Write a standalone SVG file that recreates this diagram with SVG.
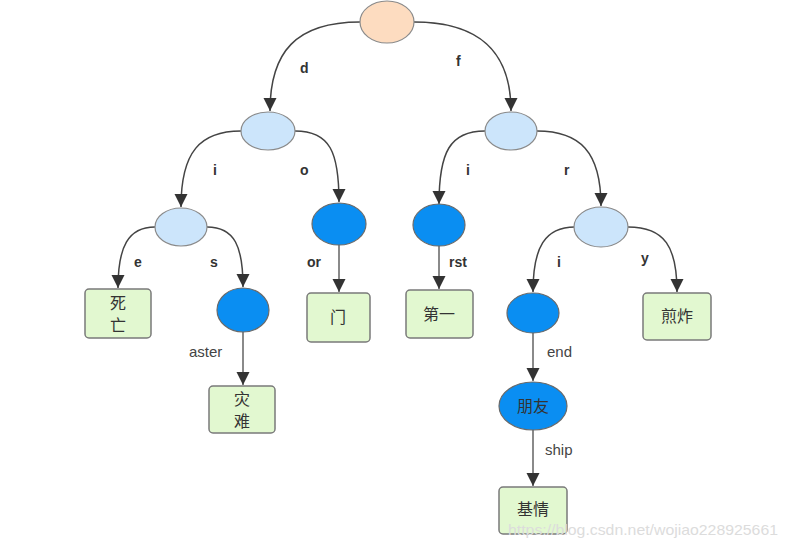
<svg xmlns="http://www.w3.org/2000/svg" width="788" height="546" viewBox="0 0 788 546">
<style>
.edge{fill:none;stroke:#444;stroke-width:1.5}
.vedge{fill:none;stroke:#8a8a8a;stroke-width:2}
.root{fill:#fddcc0;stroke:#8a8a8a;stroke-width:1.2}
.light{fill:#cce5fb;stroke:#8a8a8a;stroke-width:1.2}
.dark{fill:#0a8ef2;stroke:#6a6a6a;stroke-width:1.2}
.leaf{fill:#e2f8d0;stroke:#7a7a7a;stroke-width:1.5}
.lbl{font-family:"Liberation Sans",Arial,sans-serif;font-size:14px;font-weight:bold;fill:#333}
.lblr{font-family:"Liberation Sans",Arial,sans-serif;font-size:15px;fill:#444}
.cjk{font-family:"Noto Sans CJK SC","Liberation Sans",sans-serif;font-size:16px;fill:#333;text-anchor:middle}
.wm{font-family:"Liberation Sans",Arial,sans-serif;font-size:15px;fill:#dcdcdc}
</style>
<defs>
<marker id="arr" markerUnits="userSpaceOnUse" markerWidth="14" markerHeight="16" refX="13" refY="6.5" orient="auto">
<path d="M0,0 L13,6.5 L0,13 Z" fill="#333"/>
</marker>
</defs>
<rect width="788" height="546" fill="#fff"/>
<g id="connectors">
<path class="edge" d="M360,22 C296,22 270,52 270,111" marker-end="url(#arr)"/>
<path class="edge" d="M414,22 C480,22 511,52 511,111" marker-end="url(#arr)"/>
<path class="edge" d="M241,131 C200,131 181,152 181,207" marker-end="url(#arr)"/>
<path class="edge" d="M295,131 C330,131 339,152 339,202" marker-end="url(#arr)"/>
<path class="edge" d="M155,227 C128,227 118,247 118,288" marker-end="url(#arr)"/>
<path class="edge" d="M207,227 C235,227 243,247 243,287" marker-end="url(#arr)"/>
<path class="vedge" d="M243,332 L243,385" marker-end="url(#arr)"/>
<path class="vedge" d="M339,245 L339,292" marker-end="url(#arr)"/>
<path class="edge" d="M485,131 C450,131 439,152 439,204" marker-end="url(#arr)"/>
<path class="edge" d="M537,131 C580,131 601,152 601,206" marker-end="url(#arr)"/>
<path class="vedge" d="M439,246 L439,289" marker-end="url(#arr)"/>
<path class="edge" d="M575,227 C545,227 533,247 533,292" marker-end="url(#arr)"/>
<path class="edge" d="M628,227 C665,227 677,247 677,292" marker-end="url(#arr)"/>
<path class="vedge" d="M533,333 L533,381" marker-end="url(#arr)"/>
<path class="vedge" d="M533,429 L533,486" marker-end="url(#arr)"/>
<text class="lbl" x="300" y="73">d</text>
<text class="lbl" x="456" y="66">f</text>
<text class="lbl" x="213" y="175">i</text>
<text class="lbl" x="300" y="175">o</text>
<text class="lbl" x="466" y="175">i</text>
<text class="lbl" x="564" y="175">r</text>
<text class="lbl" x="134" y="267">e</text>
<text class="lbl" x="210" y="267">s</text>
<text class="lbl" x="307" y="267">or</text>
<text class="lbl" x="449" y="267">rst</text>
<text class="lbl" x="557" y="267">i</text>
<text class="lbl" x="641" y="263">y</text>
<text class="lblr" x="189" y="357">aster</text>
<text class="lblr" x="547" y="357">end</text>
<text class="lblr" x="545" y="455">ship</text>
</g>
<g id="root"><ellipse class="root" cx="387" cy="22" rx="27" ry="21"/></g>
<g id="n-d"><ellipse class="light" cx="268" cy="131" rx="27" ry="19"/></g>
<g id="n-f"><ellipse class="light" cx="511" cy="131" rx="26" ry="19"/></g>
<g id="n-di"><ellipse class="light" cx="181" cy="227" rx="26" ry="19"/></g>
<g id="n-do"><ellipse class="dark" cx="339" cy="224" rx="27" ry="21"/></g>
<g id="n-fi"><ellipse class="dark" cx="439" cy="225" rx="26" ry="21"/></g>
<g id="n-fr"><ellipse class="light" cx="601" cy="227" rx="27" ry="20"/></g>
<g id="n-dis"><ellipse class="dark" cx="243" cy="310" rx="26" ry="22"/></g>
<g id="n-fri"><ellipse class="dark" cx="533" cy="313" rx="26" ry="20"/></g>
<g id="n-friend"><ellipse class="dark" cx="533" cy="406" rx="34" ry="24"/><text class="cjk" x="533" y="412">朋友</text></g>
<g id="leaf-die"><rect class="leaf" x="85" y="289" width="66" height="49" rx="4"/><text class="cjk" x="118" y="309">死</text><text class="cjk" x="118" y="331">亡</text></g>
<g id="leaf-disaster"><rect class="leaf" x="209" y="386" width="66" height="47" rx="4"/><text class="cjk" x="242" y="405">灾</text><text class="cjk" x="242" y="427">难</text></g>
<g id="leaf-door"><rect class="leaf" x="307" y="293" width="63" height="49" rx="4"/><text class="cjk" x="338" y="323">门</text></g>
<g id="leaf-first"><rect class="leaf" x="406" y="290" width="67" height="48" rx="4"/><text class="cjk" x="439" y="320">第一</text></g>
<g id="leaf-fry"><rect class="leaf" x="643" y="293" width="68" height="47" rx="4"/><text class="cjk" x="677" y="322">煎炸</text></g>
<g id="leaf-friendship"><rect class="leaf" x="499" y="487" width="68" height="47" rx="4"/><text class="cjk" x="533" y="515">基情</text></g>
<text class="wm" x="508" y="535" textLength="270" lengthAdjust="spacingAndGlyphs">https://blog.csdn.net/wojiao228925661</text>
</svg>
